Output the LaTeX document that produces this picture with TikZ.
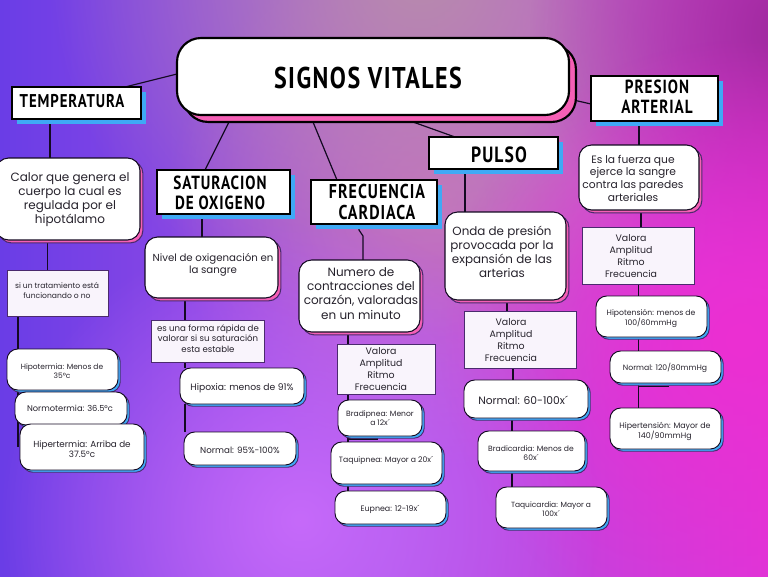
\documentclass[tikz,border=0pt]{standalone}
\usepackage{fontspec}
\setmainfont{Poppins}
\newfontfamily\headf[FakeStretch=0.8,LetterSpace=5]{PT Sans}
\usetikzlibrary{fadings,shadows}
\definecolor{pinkc}{HTML}{F55FB5}
\definecolor{bluec}{HTML}{3FA9F5}
\definecolor{linec}{HTML}{140A22}
\definecolor{rectc}{HTML}{F9F4FC}
\definecolor{rectl}{HTML}{4B2A6E}
\definecolor{inkc}{HTML}{26222C}
\definecolor{HTMLa}{HTML}{6A3DE6}
\definecolor{HTMLb}{HTML}{A850E4}
\definecolor{HTMLc}{HTML}{DE35D8}
\definecolor{HTMLd}{HTML}{B88CAC}
\definecolor{HTMLe}{HTML}{9E2A9E}
\definecolor{HTMLf}{HTML}{EC2FD2}
\definecolor{HTMLg}{HTML}{C66AFA}
\definecolor{HTMLh}{HTML}{C86CC4}
\tikzfading[name=blob, inner color=transparent!0, outer color=transparent!100]
\pgfdeclarelayer{bgl}\pgfdeclarelayer{linel}
\pgfsetlayers{bgl,linel,main}
\tikzset{
  every node/.style={inner sep=0pt,outer sep=0pt,text=inkc},
  titlebox/.style={draw=black,fill=white,line width=1.6pt,rounded corners=18pt,
    copy shadow={shadow xshift=5.2pt,shadow yshift=-5.2pt,fill=pinkc,draw=black,opacity=1},node font=\headf\bfseries,text=black},
  headbox/.style={draw=black,fill=white,line width=1.2pt,
    copy shadow={shadow xshift=3.8pt,shadow yshift=-3.6pt,fill=bluec,draw=none,opacity=1},node font=\headf\bfseries,text=black},
  pinkround/.style={draw=linec,fill=white,line width=.8pt,rounded corners=9.5pt,
    copy shadow={shadow xshift=2.2pt,shadow yshift=-2.2pt,fill=pinkc,draw=rectl,opacity=1}},
  blueround/.style={draw=linec,fill=white,line width=.7pt,rounded corners=8pt,
    copy shadow={shadow xshift=1.7pt,shadow yshift=-1.7pt,fill=bluec,draw=rectl,opacity=1}},
  plainrect/.style={draw=rectl,fill=rectc,line width=.7pt},
  conn/.style={draw=linec,line width=.9pt},
  connthick/.style={draw=linec,line width=1.4pt},
}
% #1 style #2 name #3-6 x1 y1 x2 y2 #7 text centre x #8 first baseline y #9 size; then leading, lines
\newcommand\bx[9]{%
  \def\bxst{#1}\def\bxnm{#2}%
  \pgfmathsetmacro\bxcx{(#3+#5)/2}\pgfmathsetmacro\bxcy{(#4+#6)/2}%
  \pgfmathsetmacro\bxw{(#5-#3)*.75}\pgfmathsetmacro\bxh{(#6-#4)*.75}%
  \pgfmathsetmacro\bxdx{(#7-\bxcx)*1.5}\pgfmathsetmacro\bxdy{(#8-\bxcy)*.75}%
  \pgfmathsetmacro\bxH{\bxh/2+\bxdy}\pgfmathsetmacro\bxD{\bxh/2-\bxdy}%
  \pgfmathsetmacro\bxsz{#9*.75}\bxrest}
\newcommand\bxrest[2]{%
  \pgfmathsetmacro\bxld{#1*.75}%
  \node[\bxst,minimum width=\bxw pt,minimum height=\bxh pt,text height=\bxH pt,text depth=\bxD pt]
    (\bxnm) at (\bxcx,\bxcy)
    {\fontsize{\bxsz pt}{\bxld pt}\selectfont
     \makebox[0pt][c]{\hspace*{\bxdx pt}\begin{tabular}[t]{@{}c@{}}#2\end{tabular}}};}
% vertical connector at x = #3 from the bottom of #1 to the top of #2
\newcommand\vc[4][conn]{\draw[#1] (#2.south -| #4,0) -- (#3.north -| #4,0);}
\begin{document}
\begin{tikzpicture}[x=.75pt,y=-.75pt]
\useasboundingbox (0,0) rectangle (768,576);
\begin{pgfonlayer}{bgl}
\begin{scope}
\clip (0,0) rectangle (768,576);
\shade[left color=HTMLa,right color=HTMLc,middle color=HTMLb] (0,0) rectangle (768,576);
\fill[color=HTMLh,path fading=blob] (440,200) circle (270);
\fill[color=HTMLd,path fading=blob] (420,-30) circle (370);
\fill[color=HTMLe,path fading=blob] (790,30) circle (260);
\fill[color=HTMLf,path fading=blob] (740,340) circle (300);
\fill[color=HTMLg,path fading=blob] (300,520) circle (300);
\end{scope}
\end{pgfonlayer}

\bx{titlebox}{title}{177}{38}{569}{115}{368}{88}{30}{30}{SIGNOS VITALES}

\bx{headbox}{temp}{12}{87}{141}{119}{72}{107}{18.5}{20}{TEMPERATURA}
\bx{headbox}{sat}{157}{170}{290}{214}{220}{189}{19}{20}{SATURACION\\DE OXIGENO}
\bx{headbox}{frec}{311}{180}{437}{224}{377}{198}{20}{21}{FRECUENCIA\\CARDIACA}
\bx{headbox}{pulso}{429}{137}{558}{169}{499}{162}{22}{21}{PULSO}
\bx{headbox}{pres}{591}{76}{718}{121}{657}{93}{19}{20}{PRESION\\ARTERIAL}

\bx{pinkround}{calor}{-4}{158}{140}{240}{70}{181}{12}{14.2}{Calor que genera el\\cuerpo la cual es\\regulada por el\\hipotálamo}
\bx{pinkround}{nivel}{145}{237}{278}{298}{213}{261}{10.2}{12}{Nivel de oxigenación en\\la sangre}
\bx{pinkround}{numero}{299}{260}{420}{332}{361}{276}{12}{14.4}{Numero de\\contracciones del\\corazón, valoradas\\en un minuto}
\bx{pinkround}{onda}{445}{212}{566}{300}{502}{235}{11.9}{14.2}{Onda de presión\\provocada por la\\expansión de las\\arterias}
\bx{pinkround}{esla}{579}{145}{699}{210}{633}{163}{10.7}{12.8}{Es la fuerza que\\ejerce la sangre\\contra las paredes\\arteriales}

\bx{plainrect}{siun}{7}{270}{108}{316}{57}{288}{7.6}{10}{si un tratamiento está\\funcionando o no}
\bx{plainrect}{esuna}{151}{320}{264}{362}{208}{331}{8.6}{10.6}{es una forma rápida de\\valorar si su saturación\\esta estable}
\bx{plainrect}{valfc}{337}{344}{435}{394}{381}{354.5}{9.4}{11.9}{Valora\\Amplitud\\Ritmo\\Frecuencia}
\bx{plainrect}{valpu}{464}{311}{576}{368}{511}{325}{9.4}{12}{Valora\\Amplitud\\Ritmo\\Frecuencia}
\bx{plainrect}{valpa}{582}{227}{694}{284}{631}{241.5}{9.4}{12}{Valora\\Amplitud\\Ritmo\\Frecuencia}

\bx{blueround}{hipot}{7}{349}{118}{390}{62}{369}{7.5}{9}{Hipotermia: Menos de\\35°c}
\bx{blueround}{normot}{15}{392}{127}{425}{70}{411}{8.3}{9}{Normotermia: 36.5°c}
\bx{blueround}{hipert}{20}{424}{144}{470}{82}{447.5}{8.8}{10}{Hipertermia: Arriba de\\37.5°c}
\bx{blueround}{hipox}{180}{368}{304}{404}{242}{390.5}{9.2}{10}{Hipoxia: menos de 91\%}
\bx{blueround}{normsat}{184}{432}{296}{465}{240}{453}{8.7}{10}{Normal: 95\%-100\%}
\bx{blueround}{bradip}{338}{400}{422}{436}{380}{416}{7.6}{9}{Bradipnea: Menor\\a 12x´}
\bx{blueround}{taquip}{331}{442}{442}{484}{386}{462}{7.7}{9}{Taquipnea: Mayor a 20x´}
\bx{blueround}{eupnea}{335}{491}{446}{524}{390}{511}{7.9}{9}{Eupnea: 12-19x´}
\bx{blueround}{normpu}{464}{380}{588}{418}{523}{404}{10.7}{12}{Normal: 60-100x´}
\bx{blueround}{bradic}{478}{431}{585}{471}{531}{451}{7.6}{9}{Bradicardia: Menos de\\60x´}
\bx{blueround}{taquic}{496}{487}{607}{528}{551}{507}{7.5}{9}{Taquicardia: Mayor a\\100x´}
\bx{blueround}{hipoten}{596}{296}{707}{337}{651}{315}{7.7}{10}{Hipotensión: menos de\\100/60mmHg}
\bx{blueround}{normpa}{610}{351}{721}{383}{665}{370}{7.7}{9}{Normal: 120/80mmHg}
\bx{blueround}{hiperten}{610}{408}{721}{449}{665}{428}{7.9}{9}{Hipertensión: Mayor de\\140/90mmHg}

\begin{pgfonlayer}{linel}
\draw[conn] (title.west |- 0,74) -- (temp.north -| 125,0);
\draw[conn] (title.south -| 229,0) ++(0,7) -- (sat.north -| 205,0);
\draw[conn] (title.south -| 313,0) ++(0,7) -- (frec.north -| 337,0);
\draw[conn] (title.south -| 413,0) ++(0,7) -- (pulso.north -| 455,0);
\draw[conn] (pres.west |- 0,104) -- (title.east |- 0,99);
\vc{temp}{calor}{50}
\vc{calor}{siun}{47.5}
\vc{siun}{hipot}{18}
\draw[conn] (hipot.south -| 18,0) -- (hipert.west -| 18,0);
\vc{sat}{nivel}{202}
\vc{nivel}{esuna}{185}
\vc{esuna}{hipox}{185}
\vc{hipox}{normsat}{185}
\draw[conn] (frec.south -| 359,0) -- ++(0,6) -- ++(4,6) -- (numero.north -| 363,0);
\vc[connthick]{numero}{valfc}{348}
\vc[connthick]{valfc}{bradip}{348}
\vc[connthick]{bradip}{taquip}{348}
\vc[connthick]{taquip}{eupnea}{348}
\draw[connthick] (bradip.south -| 348,0) ++(0,3) -- ++(30,0);
\vc{pulso}{onda}{465}
\vc{onda}{valpu}{507}
\vc{valpu}{normpu}{513}
\vc{normpu}{bradic}{512}
\vc{bradic}{taquic}{512}
\vc{pres}{esla}{639}
\vc[connthick]{esla}{valpa}{641}
\vc{valpa}{hipoten}{638.5}
\vc{hipoten}{normpa}{638.5}
\vc{normpa}{hiperten}{638.5}
\draw[connthick] (normpa.south -| 639,0) ++(0,3.5) -- ++(30,0);
\end{pgfonlayer}
\end{tikzpicture}
\end{document}
